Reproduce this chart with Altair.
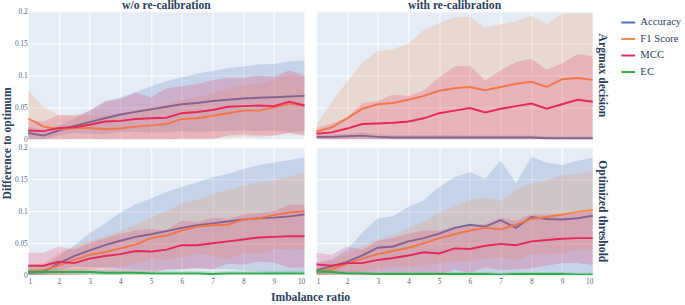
import altair as alt
import pandas as pd

X = [1, 1.5, 2, 2.5, 3, 3.5, 4, 4.5, 5, 5.5, 6, 6.5, 7, 7.5, 8, 8.5, 9, 9.5, 10]
METRICS = ["Accuracy", "F1 Score", "MCC", "EC"]
COLORS = ["#4C6CB5", "#F58A48", "#E8275C", "#2EAD4B"]
COLS = ["w/o re-calibration", "with re-calibration"]
ROWS = ["Argmax decision", "Optimized threshold"]

# --- Argmax decision, w/o re-calibration ---
A0_ACC = [0.010, 0.006, 0.014, 0.021, 0.027, 0.033, 0.039, 0.043, 0.047, 0.051, 0.055, 0.057, 0.060, 0.062, 0.064, 0.065, 0.066, 0.067, 0.068]
A0_ACC_SD = [0.010, 0.009, 0.008, 0.011, 0.018, 0.025, 0.027, 0.031, 0.036, 0.040, 0.042, 0.046, 0.047, 0.049, 0.050, 0.052, 0.052, 0.055, 0.055]
A0_F1 = [0.033, 0.020, 0.016, 0.018, 0.018, 0.016, 0.017, 0.020, 0.022, 0.024, 0.032, 0.033, 0.037, 0.041, 0.045, 0.045, 0.050, 0.056, 0.052]
A0_F1_SD = [0.044, 0.030, 0.022, 0.020, 0.020, 0.022, 0.024, 0.026, 0.028, 0.030, 0.030, 0.032, 0.035, 0.038, 0.040, 0.042, 0.044, 0.046, 0.046]
A0_MCC = [0.014, 0.013, 0.018, 0.019, 0.023, 0.028, 0.029, 0.032, 0.033, 0.034, 0.041, 0.043, 0.046, 0.051, 0.052, 0.053, 0.052, 0.059, 0.053]
A0_MCC_SD = [0.016, 0.015, 0.020, 0.018, 0.022, 0.032, 0.034, 0.041, 0.033, 0.046, 0.042, 0.043, 0.047, 0.045, 0.044, 0.047, 0.046, 0.049, 0.047]

# --- Argmax decision, with re-calibration ---
A1_ACC = [0.004, 0.004, 0.005, 0.006, 0.004, 0.003, 0.003, 0.003, 0.003, 0.003, 0.003, 0.003, 0.003, 0.003, 0.003, 0.002, 0.002, 0.002, 0.002]
A1_ACC_SD = [0.003, 0.004, 0.004, 0.005, 0.004, 0.004, 0.004, 0.004, 0.004, 0.004, 0.003, 0.003, 0.003, 0.003, 0.003, 0.003, 0.003, 0.003, 0.003]
A1_F1 = [0.012, 0.019, 0.033, 0.048, 0.055, 0.057, 0.062, 0.068, 0.076, 0.080, 0.082, 0.077, 0.082, 0.087, 0.090, 0.082, 0.094, 0.096, 0.093]
A1_F1_SD = [0.010, 0.040, 0.057, 0.072, 0.083, 0.084, 0.088, 0.103, 0.106, 0.111, 0.110, 0.098, 0.098, 0.098, 0.103, 0.098, 0.103, 0.101, 0.104]
A1_MCC = [0.009, 0.011, 0.017, 0.024, 0.025, 0.026, 0.028, 0.033, 0.041, 0.045, 0.049, 0.042, 0.048, 0.052, 0.056, 0.048, 0.055, 0.062, 0.059]
A1_MCC_SD = [0.009, 0.014, 0.017, 0.033, 0.035, 0.044, 0.040, 0.044, 0.056, 0.069, 0.066, 0.050, 0.060, 0.069, 0.070, 0.061, 0.064, 0.071, 0.071]

# --- Optimized threshold, w/o re-calibration ---
O0_ACC = [0.004, 0.005, 0.019, 0.030, 0.039, 0.047, 0.054, 0.060, 0.064, 0.069, 0.074, 0.078, 0.081, 0.084, 0.087, 0.089, 0.090, 0.092, 0.095]
O0_ACC_SD = [0.008, 0.010, 0.012, 0.016, 0.027, 0.034, 0.044, 0.051, 0.056, 0.061, 0.064, 0.067, 0.072, 0.074, 0.079, 0.083, 0.086, 0.088, 0.089]
O0_F1 = [0.006, 0.008, 0.015, 0.024, 0.032, 0.036, 0.042, 0.048, 0.058, 0.062, 0.070, 0.076, 0.078, 0.079, 0.087, 0.089, 0.094, 0.098, 0.100]
O0_F1_SD = [0.010, 0.012, 0.020, 0.021, 0.022, 0.024, 0.028, 0.030, 0.032, 0.038, 0.042, 0.042, 0.048, 0.054, 0.053, 0.056, 0.054, 0.056, 0.060]
O0_MCC = [0.015, 0.015, 0.021, 0.019, 0.026, 0.030, 0.033, 0.038, 0.037, 0.040, 0.047, 0.047, 0.050, 0.053, 0.056, 0.059, 0.060, 0.061, 0.061]
O0_MCC_SD = [0.020, 0.020, 0.024, 0.021, 0.024, 0.028, 0.032, 0.032, 0.035, 0.030, 0.038, 0.036, 0.040, 0.035, 0.039, 0.038, 0.040, 0.049, 0.049]
O0_EC = [0.005, 0.005, 0.005, 0.005, 0.005, 0.004, 0.004, 0.004, 0.003, 0.003, 0.003, 0.003, 0.002, 0.003, 0.003, 0.003, 0.003, 0.003, 0.003]
O0_EC_SD = [0.004, 0.004, 0.004, 0.004, 0.004, 0.004, 0.004, 0.004, 0.004, 0.004, 0.004, 0.004, 0.004, 0.004, 0.004, 0.004, 0.004, 0.004, 0.004]

# --- Optimized threshold, with re-calibration ---
O1_ACC = [0.008, 0.014, 0.021, 0.031, 0.043, 0.045, 0.053, 0.058, 0.065, 0.074, 0.079, 0.076, 0.086, 0.074, 0.091, 0.088, 0.087, 0.089, 0.093]
O1_ACC_SD = [0.012, 0.011, 0.019, 0.036, 0.046, 0.047, 0.054, 0.059, 0.073, 0.079, 0.082, 0.075, 0.093, 0.070, 0.094, 0.088, 0.085, 0.090, 0.091]
O1_F1 = [0.005, 0.009, 0.018, 0.026, 0.033, 0.038, 0.043, 0.050, 0.058, 0.064, 0.070, 0.074, 0.072, 0.079, 0.088, 0.091, 0.095, 0.099, 0.102]
O1_F1_SD = [0.012, 0.014, 0.015, 0.020, 0.023, 0.024, 0.031, 0.034, 0.040, 0.043, 0.048, 0.047, 0.044, 0.055, 0.055, 0.058, 0.061, 0.059, 0.062]
O1_MCC = [0.017, 0.015, 0.019, 0.019, 0.024, 0.027, 0.031, 0.036, 0.034, 0.042, 0.041, 0.046, 0.049, 0.047, 0.053, 0.055, 0.057, 0.058, 0.058]
O1_MCC_SD = [0.018, 0.017, 0.026, 0.021, 0.030, 0.031, 0.034, 0.034, 0.036, 0.033, 0.037, 0.034, 0.041, 0.038, 0.042, 0.040, 0.038, 0.039, 0.042]
O1_EC = [0.006, 0.005, 0.003, 0.003, 0.002, 0.002, 0.002, 0.002, 0.002, 0.002, 0.002, 0.002, 0.001, 0.002, 0.002, 0.002, 0.002, 0.001, 0.001]
O1_EC_SD = [0.004, 0.004, 0.003, 0.003, 0.003, 0.003, 0.003, 0.003, 0.003, 0.003, 0.003, 0.003, 0.003, 0.003, 0.003, 0.003, 0.003, 0.003, 0.003]

SERIES = [
    (COLS[0], ROWS[0], "Accuracy", A0_ACC, A0_ACC_SD),
    (COLS[0], ROWS[0], "F1 Score", A0_F1, A0_F1_SD),
    (COLS[0], ROWS[0], "MCC", A0_MCC, A0_MCC_SD),
    (COLS[1], ROWS[0], "Accuracy", A1_ACC, A1_ACC_SD),
    (COLS[1], ROWS[0], "F1 Score", A1_F1, A1_F1_SD),
    (COLS[1], ROWS[0], "MCC", A1_MCC, A1_MCC_SD),
    (COLS[0], ROWS[1], "Accuracy", O0_ACC, O0_ACC_SD),
    (COLS[0], ROWS[1], "F1 Score", O0_F1, O0_F1_SD),
    (COLS[0], ROWS[1], "MCC", O0_MCC, O0_MCC_SD),
    (COLS[0], ROWS[1], "EC", O0_EC, O0_EC_SD),
    (COLS[1], ROWS[1], "Accuracy", O1_ACC, O1_ACC_SD),
    (COLS[1], ROWS[1], "F1 Score", O1_F1, O1_F1_SD),
    (COLS[1], ROWS[1], "MCC", O1_MCC, O1_MCC_SD),
    (COLS[1], ROWS[1], "EC", O1_EC, O1_EC_SD),
]

records = []
for col, row, metric, means, sds in SERIES:
    for x, m, s in zip(X, means, sds):
        records.append({"col": col, "row": row, "metric": metric, "x": x,
                        "mean": m, "lo": max(0.0, m - s), "hi": min(0.2, m + s)})
df = pd.DataFrame(records)

FONT = "Liberation Serif"
TXT = "#2a3f5f"

cscale = alt.Scale(domain=METRICS, range=COLORS)
legend = alt.Legend(title=None, symbolType="stroke", symbolOpacity=1, labelFont=FONT,
                    labelFontSize=11, labelColor=TXT, symbolSize=200, symbolStrokeWidth=2,
                    rowPadding=3, padding=3, offset=9)
xenc = alt.X("x:Q", scale=alt.Scale(domain=[1, 10], nice=False),
             axis=alt.Axis(values=list(range(1, 11)), title=None, labelPadding=2))
yaxis = alt.Axis(values=[0, 0.05, 0.1, 0.15, 0.2], format="~g", title=None, labelPadding=1)
yscale = alt.Scale(domain=[0, 0.2], nice=False)

layers = []
for m in METRICS:
    f = alt.datum.metric == m
    band = alt.Chart().mark_area(opacity=0.2, clip=True).encode(
        x=xenc,
        y=alt.Y("lo:Q", scale=yscale, axis=yaxis),
        y2="hi:Q",
        color=alt.Color("metric:N", scale=cscale, legend=legend),
    ).transform_filter(f)
    line = alt.Chart().mark_line(strokeWidth=2, clip=True).encode(
        x=xenc,
        y=alt.Y("mean:Q", scale=yscale, axis=yaxis),
        color=alt.Color("metric:N", scale=cscale, legend=legend),
    ).transform_filter(f)
    layers += [band, line]

chart = alt.layer(*layers).properties(width=285, height=132).facet(
    data=df,
    column=alt.Column("col:N", sort=COLS, title="Imbalance ratio",
                      header=alt.Header(labelOrient="top", titleOrient="bottom",
                                        labelFont=FONT, labelFontSize=12, labelFontWeight="bold",
                                        labelColor=TXT, labelPadding=-1,
                                        titleFont=FONT, titleFontSize=12, titleFontWeight="bold",
                                        titleColor=TXT, titlePadding=-2)),
    row=alt.Row("row:N", sort=ROWS, title="Difference to optimum",
                header=alt.Header(labelOrient="right", titleOrient="left", labelAngle=90,
                                  labelFont=FONT, labelFontSize=12, labelFontWeight="bold",
                                  labelColor=TXT, labelPadding=3,
                                  titleFont=FONT, titleFontSize=12, titleFontWeight="bold",
                                  titleColor=TXT, titlePadding=-10)),
    spacing={"row": 8, "column": 12},
).configure_view(
    fill="#E5ECF6", strokeWidth=0
).configure_axis(
    domain=False, ticks=False, gridColor="white", gridWidth=1, minExtent=0,
    labelFont=FONT, labelFontSize=7.5, labelColor="#506784",
).properties(
    padding={"left": 0, "top": -5, "right": 0, "bottom": 0}
)

chart.save("out.html", embed_options={"renderer": "svg", "actions": False})
